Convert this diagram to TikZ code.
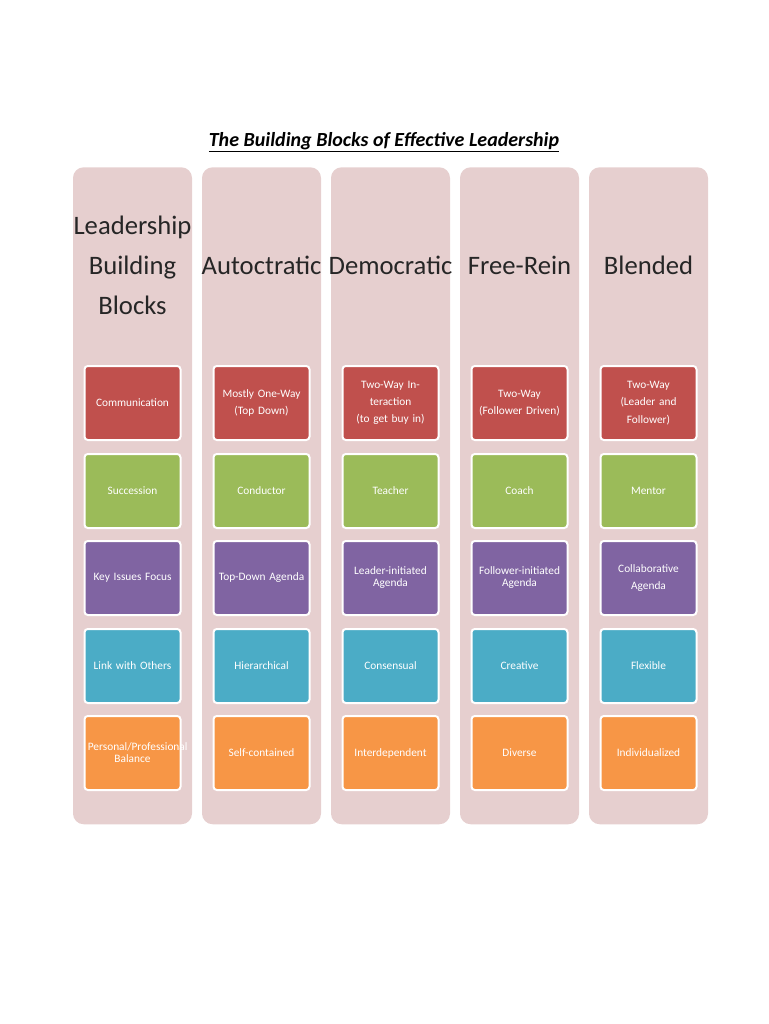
\documentclass[tikz,border=0pt]{standalone}
\usepackage{fontspec}
\setmainfont{Carlito}
\definecolor{colbg}{HTML}{E6CFCF}
\definecolor{bred}{HTML}{C0504D}
\definecolor{bgreen}{HTML}{9BBB59}
\definecolor{bpurple}{HTML}{8064A2}
\definecolor{bcyan}{HTML}{4BACC6}
\definecolor{borange}{HTML}{F79646}
\tikzset{
  column/.style={fill=colbg, rounded corners=8pt, minimum width=89.25pt, minimum height=492.75pt, anchor=north},
  block/.style={fill=#1, draw=white, line width=1.5pt, rounded corners=2.5pt, minimum width=72pt, minimum height=55.5pt,
    text=white, align=center, font=\fontsize{8.5}{13}\selectfont, anchor=north, text width=67pt, inner sep=1pt},
  header/.style={align=center, font=\fontsize{20}{30}\selectfont, text=black!85}
}
\begin{document}
\begin{tikzpicture}[x=0.75pt, y=-0.75pt]
\useasboundingbox (0,0) rectangle (768,1024);
\node (title) at (384,142) {\fontsize{15}{18}\selectfont\underline{\textbf{\textit{The Building Blocks of Effective Leadership}}}};
% columns
\foreach \c in {1,...,5}
  \node[column] (col\c) at ({132.5+129*(\c-1)},167) {};
\foreach \c/\h in {1/{Leadership\\Building\\Blocks},2/Autoctratic,3/Democratic,4/Free-Rein,5/Blended}
  \node[header] (head\c) at ({132.5+129*(\c-1)},265) {\h};
% blocks, one row at a time
\foreach \c/\t in {1/Communication,2/{Mostly One-Way\\(Top Down)},3/{Two-Way Interaction\\(to get buy in)},4/{Two-Way\\(Follower Driven)},5/{Two-Way\\(Leader and Follower)}}
  \node[block=bred] (red\c) at ({132.5+129*(\c-1)},365) {\t};
\foreach \c/\t in {1/Succession,2/Conductor,3/Teacher,4/Coach,5/Mentor}
  \node[block=bgreen] (green\c) at ({132.5+129*(\c-1)},453) {\t};
\foreach \c/\t in {1/Key Issues Focus,2/Top-Down Agenda,3/{Leader-initiated\\[-4pt]Agenda},4/{Follower-initiated\\[-4pt]Agenda},5/Collaborative Agenda}
  \node[block=bpurple] (purple\c) at ({132.5+129*(\c-1)},540) {\t};
\foreach \c/\t in {1/Link with Others,2/Hierarchical,3/Consensual,4/Creative,5/Flexible}
  \node[block=bcyan] (cyan\c) at ({132.5+129*(\c-1)},628) {\t};
\foreach \c/\t in {1/{Personal/Professional\\[-4pt]Balance},2/Self-contained,3/Interdependent,4/Diverse,5/Individualized}
  \node[block=borange] (orange\c) at ({132.5+129*(\c-1)},715) {\t};
\end{tikzpicture}
\end{document}
